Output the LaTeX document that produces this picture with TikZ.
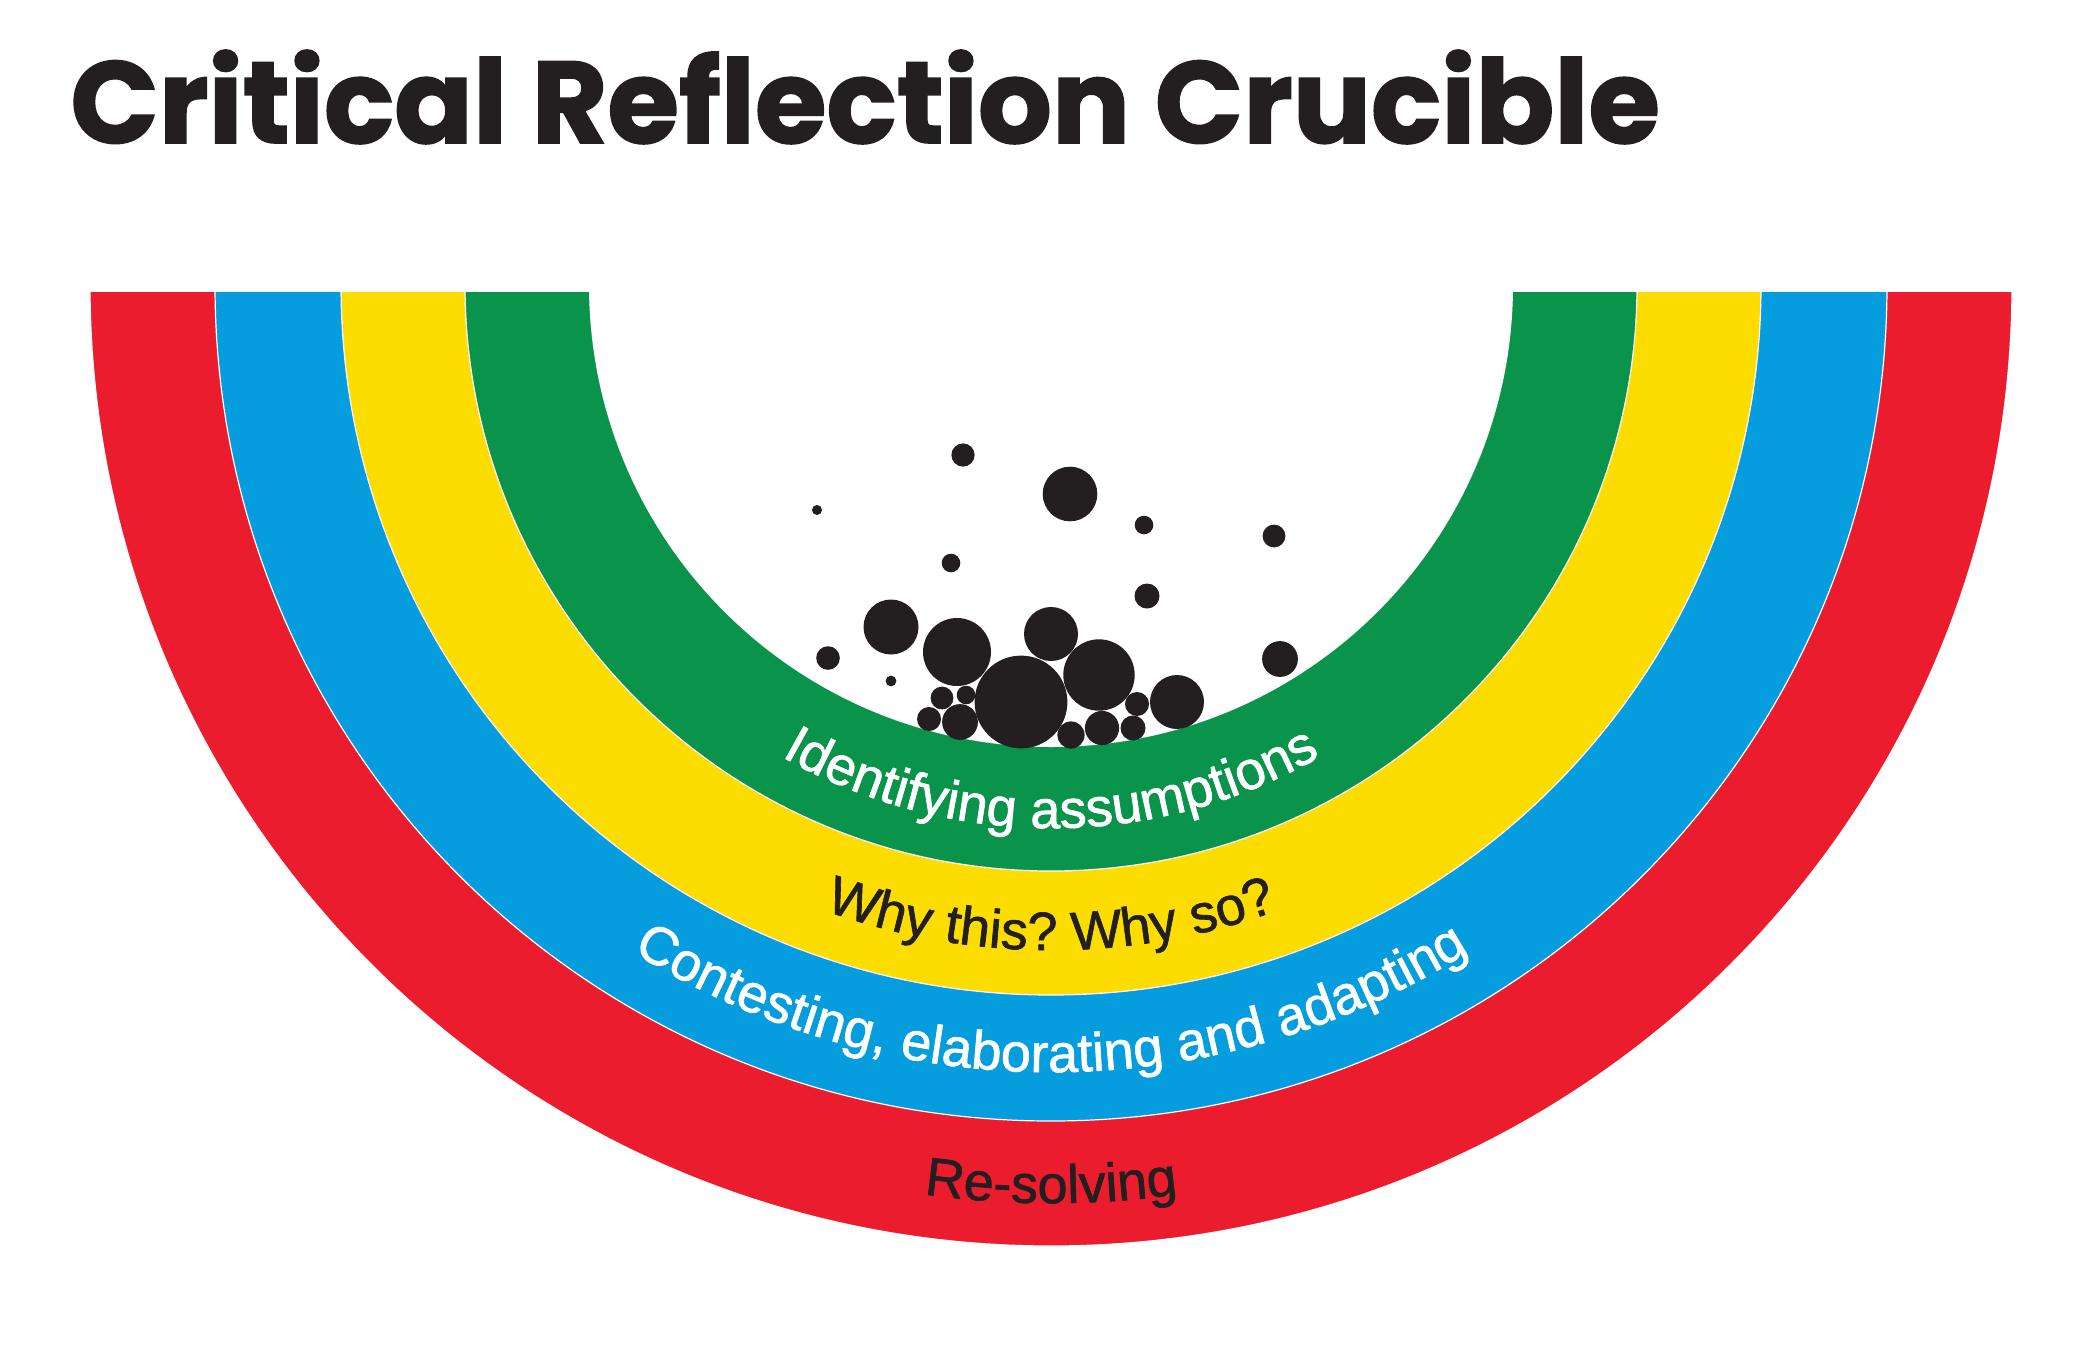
\documentclass[tikz,border=0pt]{standalone}
\usepackage{fontspec}
\usetikzlibrary{decorations.text}
\setmainfont{Liberation Sans}
\newfontfamily\bandfont{Liberation Sans}[FakeBold=1.2,UprightFeatures={FakeBold=1.2}]
\newfontfamily\titlefont{Poppins}[BoldFeatures={FakeBold=1.5}]
\definecolor{crRed}{HTML}{EB1C2D}
\definecolor{crBlue}{HTML}{069DDE}
\definecolor{crYellow}{HTML}{FDDD00}
\definecolor{crGreen}{HTML}{0A944B}
\definecolor{crDark}{HTML}{231F20}
\newcommand{\bandtext}{\bandfont\fontsize{27pt}{30pt}\selectfont}
\tikzset{
  band/.style={draw=white, line width=0.6pt},
  bubble/.style={fill=crDark},
  arctext/.style={decorate, decoration={text along path, text align=center, text color=#1}}
}
\begin{document}
\begin{tikzpicture}[x=0.5pt,y=-0.5pt]
\useasboundingbox (0,0) rectangle (2098,1344);
\fill[white] (0,0) rectangle (2098,1344);
\coordinate (c) at (1051,285);
\node[anchor=base west, inner sep=0, text=crDark] (title) at (70,143)
  {\resizebox{794.5pt}{46.5pt}{\titlefont\bfseries Critical Reflection Crucible}};
\begin{scope}
  \clip (0,292) rectangle (2098,1344);
  \fill[crRed, band] (c) circle[radius=961];
  \fill[crBlue, band] (c) circle[radius=836];
  \fill[crYellow, band] (c) circle[radius=710];
  \fill[crGreen, band] (c) circle[radius=586];
  \fill[white] (c) circle[radius=462];
\end{scope}
% bubbles
\foreach \bx/\by/\br in {
  963/455/11.6, 1070/494/27.3, 817/510/5, 1144/525/9.3, 1274/536/11.4,
  951/563/9.3, 1147/596/12.5, 891/627/27.5, 828/658/11.8, 957/652/34,
  1051/634/27, 1280/659/17.9, 891/681/5.4, 1099/675/35.7, 1021/702/46.4,
  1177/702/27, 942/698/11.4, 966/695/9.3, 929/719/12, 960/722/17.9,
  1137/704/12, 1102/728/17.1, 1071/735/13.6, 1133/728/12.5}
  \fill[bubble] (\bx,\by) circle[radius=\br];
% curved labels
\path[arctext=white, decoration={text={|\bandtext|Identifying assumptions}}]
  ([shift={(150:543)}]c) arc[start angle=150, end angle=30, radius=543];
\path[arctext=crDark, decoration={text={|\bandtext|Why this? Why so?}}]
  ([shift={(150:665)}]c) arc[start angle=150, end angle=30, radius=665];
\path[arctext=white, decoration={text={|\bandtext|Contesting, elaborating and adapting}}]
  ([shift={(150:787)}]c) arc[start angle=150, end angle=30, radius=787];
\path[arctext=crDark, decoration={text={|\bandtext|Re-solving}}]
  ([shift={(150:918)}]c) arc[start angle=150, end angle=30, radius=918];
\end{tikzpicture}
\end{document}
